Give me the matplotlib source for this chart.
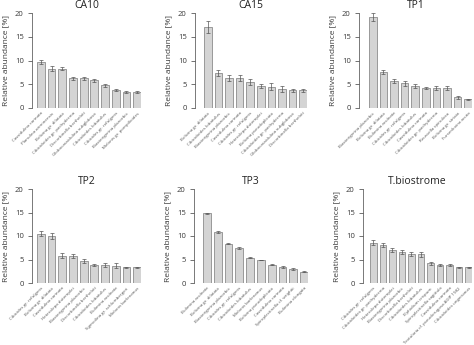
import matplotlib

matplotlib.use('Agg')
import matplotlib.pyplot as plt

plt.rcParams['font.family'] = ['Open Sans', 'DejaVu Sans']

# Mean relative abundance (%) of the ten/eleven most common taxa per site
ca10_taxa = ['Cassidulina carinata', 'Planulina ariminensis', 'Bolivina gr. dilatata',
             'Cibicidoides gr. pachyderma', 'Discorbinella bertheloti',
             'Globocassidulina subglobosa', 'Cibicidoides lobatulus', 'Cibicides gr. refulgens',
             'Biasterigerina planorbis', 'Melonis gr. pompilioides']
ca10_mean = [9.7, 8.3, 8.3, 6.3, 6.3, 5.8, 4.8, 3.8, 3.4, 3.4]
ca10_err = [0.4, 0.5, 0.4, 0.3, 0.3, 0.4, 0.3, 0.2, 0.15, 0.15]

ca15_taxa = ['Bolivina gr. dilatata', 'Cibicidoides lobatulus', 'Biasterigerina planorbis',
             'Cassidulina carinata', 'Cibicides gr. refulgens', 'Heterolepa dutemplei',
             'Bolivina pseudoplicata', 'Cibicidoides gr. pachyderma',
             'Globocassidulina subglobosa', 'Discorbinella bertheloti']
ca15_mean = [17.1, 7.3, 6.3, 6.3, 5.5, 4.6, 4.5, 4.0, 3.7, 3.7]
ca15_err = [1.3, 0.6, 0.7, 0.7, 0.6, 0.4, 0.7, 0.6, 0.3, 0.3]

tp1_taxa = ['Biasterigerina planorbis', 'Bolivina gr. dilatata', 'Bulimina aculeata',
            'Cibicides gr. refulgens', 'Cibicidoides lobatulus', 'Cassidulina carinata',
            'Cibicidoides gr. pachyderma', 'Reussella spinulosa', 'Bolivina gr. striata',
            'Fursenkoina acuta']
tp1_mean = [19.2, 7.6, 5.7, 5.2, 4.7, 4.3, 4.2, 4.2, 2.3, 1.8]
tp1_err = [0.8, 0.5, 0.4, 0.5, 0.4, 0.2, 0.4, 0.4, 0.3, 0.15]

tp2_taxa = ['Cibicides gr. refulgens', 'Bolivina gr. dilatata', 'Cassidulina carinata',
            'Heterolepa dutemplei', 'Biasterigerina planorbis', 'Discorbinella bertheloti',
            'Cibicidoides lobatulus', 'Bulimina aculeata', 'Sigmoilina gr. schlumbergeri',
            'Melonis barleeanus']
tp2_mean = [10.5, 10.0, 5.8, 5.7, 4.7, 3.8, 3.8, 3.7, 3.3, 3.3]
tp2_err = [0.6, 0.6, 0.5, 0.4, 0.4, 0.15, 0.5, 0.5, 0.2, 0.2]

tp3_taxa = ['Bulimina aculeata', 'Bolivina gr. dilatata', 'Biasterigerina planorbis',
            'Cibicides gr. refulgens', 'Cibicidoides lobatulus', 'Melonis barleeanus',
            'Bolivina pseudoplicata', 'Cassidulina carinata', 'Spiroplectinella cf. wrightii',
            'Bulimina elongata']
tp3_mean = [14.8, 10.9, 8.4, 7.4, 5.4, 4.9, 3.9, 3.4, 3.0, 2.4]
tp3_err = [0.15, 0.2, 0.2, 0.2, 0.15, 0.05, 0.1, 0.2, 0.2, 0.1]

tbio_taxa = ['Cibicides gr. refulgens', 'Cibicidoides gr. pachyderma', 'Heterolepa dutemplei',
             'Biasterigerina planorbis', 'Discorbinella bertheloti', 'Cibicidoides lobatulus',
             'Elphidium crispum', 'Spiroplectinella sagittula', 'Cassidulina carinata',
             'Textularia cf. pseudorugosa AGIP 1982', 'Cibicidoides ungerianus']
tbio_mean = [8.6, 8.1, 7.1, 6.6, 6.2, 6.1, 4.2, 3.8, 3.8, 3.3, 3.3]
tbio_err = [0.6, 0.5, 0.4, 0.4, 0.5, 0.5, 0.3, 0.15, 0.15, 0.15, 0.15]

titles = ['CA10', 'CA15', 'TP1', 'TP2', 'TP3', 'T.biostrome']
panels = [(ca10_taxa, ca10_mean, ca10_err), (ca15_taxa, ca15_mean, ca15_err),
          (tp1_taxa, tp1_mean, tp1_err), (tp2_taxa, tp2_mean, tp2_err),
          (tp3_taxa, tp3_mean, tp3_err), (tbio_taxa, tbio_mean, tbio_err)]

W, H = 474, 345
# pixel geometry: (y-axis line x, first bar left, last bar right, y of 0, y of 20)
geom = [(32, 37, 141, 108, 13), (195, 204, 307, 108, 13), (359, 369, 472, 108, 13),
        (32, 37, 141, 283, 189), (194, 203, 308, 283, 189), (363, 370, 472, 283, 189)]

fig = plt.figure(figsize=(W / 100, H / 100), dpi=100)
bw = 0.72
txt = '#3a3a3a'

for title, (taxa, mean, err), (axx, x0, x1, y0, y20) in zip(titles, panels, geom):
    n = len(taxa)
    ax = fig.add_axes([x0 / W, 1 - y0 / H, (x1 - x0) / W, (y0 - y20) / H])
    pos = list(range(n))
    ax.bar(pos, mean, width=bw, color='#d4d4d4', edgecolor='#7a7a7a', linewidth=0.5)
    ax.errorbar(pos, mean, yerr=err, fmt='none', ecolor='#555555', elinewidth=0.5,
                capsize=1.5, capthick=0.5)
    ax.set_xlim(-bw / 2, n - 1 + bw / 2)
    ax.set_ylim(0, 20)
    ax.set_yticks([0, 5, 10, 15, 20])
    ax.set_yticklabels(['0', '5', '10', '15', '20'], rotation=90, va='center')
    ax.tick_params(axis='y', labelsize=5.5, length=3, width=0.5, pad=3, colors=txt)
    ax.set_xticks(pos)
    ax.set_xticklabels(taxa, rotation=45, ha='right', rotation_mode='anchor', fontsize=3.2,
                       color='#555555')
    ax.tick_params(axis='x', length=0, pad=2.5)
    for s in ['top', 'right', 'bottom']:
        ax.spines[s].set_visible(False)
    ax.spines['left'].set_position(('outward', (x0 - axx) * 0.72))
    ax.spines['left'].set_linewidth(0.5)
    ax.spines['left'].set_color('#444444')
    ax.patch.set_visible(False)
    ax.set_ylabel('Relative abundance [%]', fontsize=6, color=txt, va='center')
    ax.yaxis.set_label_coords(max(axx - 26, 5) / W, 1 - (y0 + y20) / 2 / H,
                              transform=fig.transFigure)
    fig.text((axx + x1) / 2 / W, 1 - (y20 - 8) / H, title, ha='center', va='center',
             fontsize=7.5, color='#222222')

fig.savefig('out.png', dpi=100)
